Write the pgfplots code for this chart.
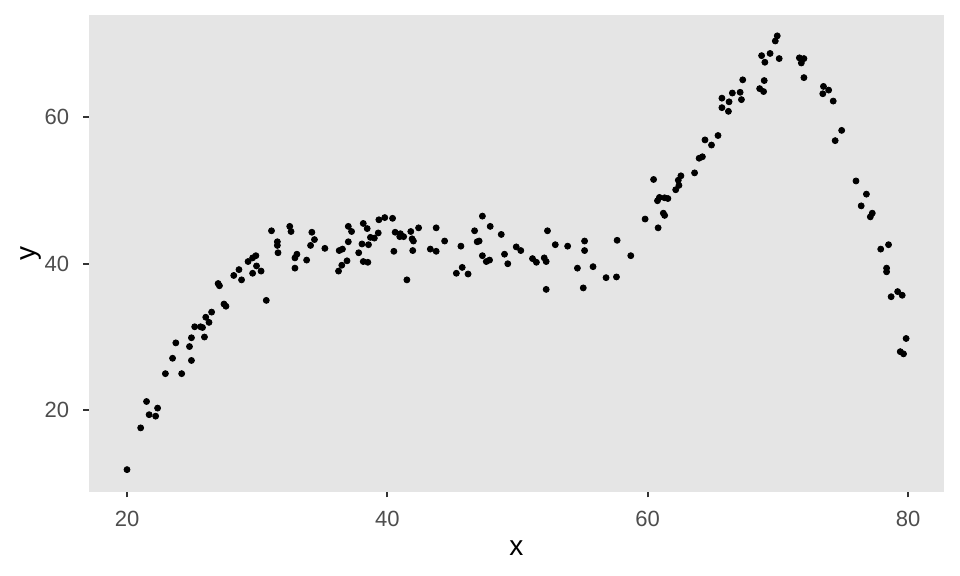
\documentclass[border=0pt]{standalone}
\usepackage{pgfplots}
\pgfplotsset{compat=1.18}
\usepackage{fontspec}
\setmainfont{Liberation Sans}
\definecolor{panelgray}{HTML}{E5E5E5}
\definecolor{ticklab}{HTML}{4D4D4D}
\definecolor{tickcol}{HTML}{333333}

\pgfplotstableread{
x y
20.0 11.9
21.05 17.6
21.5 21.2
21.7 19.4
22.35 20.3
22.2 19.2
22.95 25.0
24.2 25.0
23.5 27.1
23.75 29.2
24.95 26.8
24.8 28.7
24.95 29.9
25.2 31.4
25.65 31.4
25.8 31.3
25.95 30.0
26.05 32.7
26.3 32.0
26.5 33.4
27.0 37.3
27.1 37.0
27.45 34.5
27.6 34.2
28.2 38.4
28.6 39.2
28.8 37.8
29.3 40.3
29.65 40.8
29.9 41.1
29.95 39.7
29.65 38.7
30.3 39.0
30.7 35.0
31.1 44.5
31.55 43.0
31.55 42.5
31.6 41.5
32.5 45.1
32.6 44.4
33.05 41.3
32.9 40.8
32.9 39.4
33.8 40.5
34.1 42.5
34.2 44.3
34.4 43.3
35.2 42.1
36.25 39.0
36.5 39.8
36.3 41.8
36.55 42.0
36.9 40.4
37.0 43.0
37.0 45.1
37.25 44.4
37.8 41.5
38.05 42.7
38.15 45.5
38.45 44.8
38.15 40.3
38.5 40.2
38.55 42.6
38.7 43.6
39.0 43.5
39.3 44.2
39.35 46.0
39.8 46.3
40.4 46.2
40.6 44.3
41.0 44.1
40.95 43.7
41.25 43.7
40.5 41.7
41.5 37.8
41.8 44.4
41.9 43.4
42.0 43.1
41.95 41.8
42.4 44.9
43.3 42.0
43.75 44.9
43.75 41.7
44.4 43.1
45.65 42.4
45.3 38.7
45.75 39.5
46.2 38.6
46.7 44.5
46.9 43.0
47.05 43.1
47.3 46.5
47.9 45.1
47.3 41.1
47.6 40.3
47.85 40.5
48.75 44.0
49.0 41.3
49.25 40.0
49.9 42.3
50.25 41.8
51.15 40.7
51.45 40.2
52.05 40.8
52.2 40.3
52.3 44.5
52.2 36.5
52.9 42.6
53.85 42.4
54.6 39.4
55.15 43.1
55.15 41.8
55.05 36.7
55.8 39.6
56.8 38.1
57.6 38.2
57.65 43.2
58.7 41.1
59.8 46.1
60.8 44.9
61.2 46.9
61.3 46.6
60.45 51.5
60.75 48.6
60.9 49.05
61.3 49.0
61.55 48.9
62.15 50.1
62.4 50.7
62.35 51.4
62.55 52.0
63.6 52.4
63.95 54.4
64.2 54.6
64.4 56.9
64.9 56.2
65.4 57.5
65.7 62.6
65.7 61.3
66.2 60.8
66.25 62.1
66.5 63.3
67.1 63.4
67.2 62.4
67.3 65.1
68.6 63.9
68.9 63.5
68.95 65.0
68.75 68.4
69.0 67.5
69.4 68.7
69.8 70.4
69.95 71.1
70.1 68.0
71.65 68.1
72.0 68.0
71.8 67.4
72.0 65.4
73.5 64.2
73.9 63.7
73.45 63.2
74.25 62.2
74.9 58.2
74.4 56.8
76.0 51.3
76.8 49.5
76.4 47.9
77.25 46.9
77.1 46.4
78.5 42.6
77.9 42.0
78.35 39.4
78.35 38.9
79.2 36.2
79.55 35.7
78.7 35.5
79.85 29.8
79.4 28.0
79.65 27.7
}\pts

\begin{document}
\begin{tikzpicture}
\useasboundingbox (-44.5pt,-42pt) rectangle (435.5pt,246pt);
\begin{axis}[
  scale only axis,
  width=427.5pt, height=238.5pt,
  xmin=17.08, xmax=82.76,
  ymin=8.85, ymax=73.95,
  axis background/.style={fill=panelgray},
  axis line style={draw=none},
  xtick={20,40,60,80}, xticklabels={20,40,60,80},
  ytick={20,40,60}, yticklabels={20,40,60},
  xtick pos=bottom, ytick pos=left,
  tick align=outside,
  major tick length=2.75pt,
  tick style={color=tickcol, line width=1pt},
  ticklabel style={font=\fontsize{11}{13}\selectfont, text=ticklab},
  xticklabel style={yshift=-3.3pt},
  yticklabel style={xshift=-3.7pt},
  xlabel={x}, ylabel={y},
  label style={font=\fontsize{14}{16}\selectfont},
  xlabel style={at={(axis description cs:0.5,0)}, anchor=center, yshift=-28.25pt},
  ylabel style={at={(axis description cs:0,0.5)}, anchor=center, yshift=28.9pt},
]
\addplot[only marks, mark=*, mark size=1.5pt, color=black] table[x=x,y=y] {\pts};
\end{axis}
\end{tikzpicture}
\end{document}
